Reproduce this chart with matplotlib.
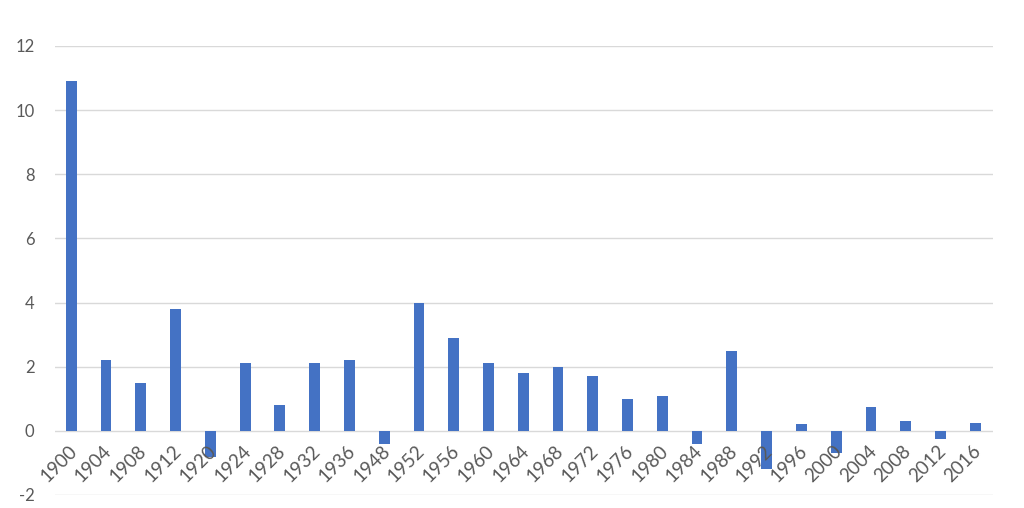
import numpy as np
import matplotlib.pyplot as plt

years = ['1900', '1904', '1908', '1912', '1920', '1924', '1928', '1932', '1936',
         '1948', '1952', '1956', '1960', '1964', '1968', '1972', '1976', '1980',
         '1984', '1988', '1992', '1996', '2000', '2004', '2008', '2012', '2016']
values = [10.9, 2.2, 1.5, 3.8, -0.8, 2.1, 0.8, 2.1, 2.2,
          -0.4, 4.0, 2.9, 2.1, 1.8, 2.0, 1.7, 1.0, 1.1,
          -0.4, 2.5, -1.2, 0.2, -0.7, 0.75, 0.3, -0.25, 0.25]
y_ticks = [-2, 0, 2, 4, 6, 8, 10, 12]

plt.rcParams['font.family'] = ['Lato', 'DejaVu Sans']

fig = plt.figure(figsize=(10.24, 5.08), dpi=100)
ax = fig.add_axes([0.054, 0.0256, 0.916, 0.884])

x = np.arange(len(years))
ax.bar(x, values, width=0.31, color='#4472C4', zorder=3)

ax.set_xlim(-0.46, len(years) - 0.48)
ax.set_ylim(-2, 12)
ax.set_yticks(y_ticks)
ax.set_yticklabels([str(t) for t in y_ticks])
ax.yaxis.grid(True, color='#d9d9d9', linewidth=1, zorder=0)
ax.tick_params(axis='y', length=0, pad=15, labelsize=12, labelcolor='#595959')
ax.set_xticks([])
for s in ax.spines.values():
    s.set_visible(False)

# category labels sit just under the zero line
for i, lab in enumerate(years):
    ax.text(i + 0.08, -0.55, lab, rotation=45, ha='right', va='center',
            rotation_mode='anchor', fontsize=13.5, color='#595959')

fig.savefig('out.png', dpi=100)
